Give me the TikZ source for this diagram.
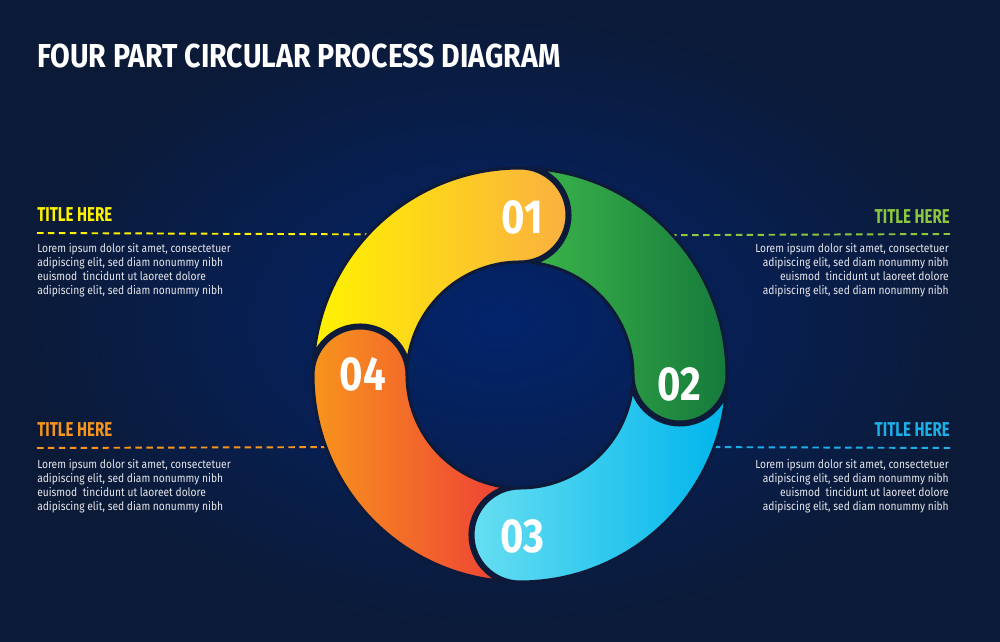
\documentclass[tikz,border=0pt]{standalone}
\usepackage{fontspec}
\usepackage{tikz}
\usetikzlibrary{positioning, calc}
\setmainfont{Fira Sans}
\newfontfamily\titlefont[FakeStretch=0.86]{Fira Sans}
\newfontfamily\condfont[FakeStretch=0.75]{Fira Sans}
\newfontfamily\numfont[FakeStretch=0.84]{Fira Sans}
\newfontfamily\blurbfont[FakeStretch=0.87]{Fira Sans}
\definecolor{bginner}{RGB}{3,36,108}
\definecolor{bgouter}{RGB}{11,26,54}
\definecolor{ringedge}{RGB}{13,26,58}
\definecolor{bodytext}{RGB}{232,232,236}
\definecolor{yel}{RGB}{255,242,0}
\definecolor{yelend}{RGB}{250,176,64}
\definecolor{grnA}{RGB}{59,180,74}
\definecolor{grnB}{RGB}{22,122,59}
\definecolor{bluA}{RGB}{102,222,241}
\definecolor{bluB}{RGB}{12,190,236}
\definecolor{bluC}{RGB}{0,181,236}
\definecolor{orA}{RGB}{247,148,29}
\definecolor{redA}{RGB}{238,65,54}
\definecolor{limetitle}{RGB}{141,198,63}
\definecolor{cyantitle}{RGB}{28,176,232}
\newcommand{\loremtext}{Lorem ipsum dolor sit amet, consectetuer\\adipiscing elit, sed diam nonummy nibh\\euismod\ \ tincidunt ut laoreet dolore\\adipiscing elit, sed diam nonummy nibh}

\begin{document}
\begin{tikzpicture}[
  x=0.254mm, y=0.254mm,
  seg/.style = {draw=ringedge, line width=2.2pt},
  heading/.style = {font=\condfont\bfseries\fontsize{14.5}{16}\selectfont, inner sep=0},
  blurb/.style = {font=\blurbfont\fontsize{8.5}{10.1}\selectfont, text=bodytext, inner sep=0},
  num/.style = {font=\numfont\bfseries\fontsize{34.5}{36}\selectfont, text=white, inner sep=0},
  guide/.style = {dash pattern=on 4.7pt off 3.2pt, line width=1.4pt}
]
  \useasboundingbox (0,0) rectangle (1000,642);
  \fill[inner color=bginner, outer color=bgouter] (0,0) rectangle (1000,642);

  \node[font=\titlefont\bfseries\fontsize{24}{26}\selectfont, text=white, anchor=base west, inner sep=0]
    (title) at (37,574) {FOUR PART CIRCULAR PROCESS DIAGRAM};

  % ring centre
  \coordinate (c) at (520,267);

  % text blocks
  \node[heading, text=yel, anchor=base west] (t1) at (37,420) {TITLE HERE};
  \node[heading, text=limetitle, anchor=base east] (t2) at (950,418) {TITLE HERE};
  \node[heading, text=orA, anchor=base west] (t4) at (37,205) {TITLE HERE};
  \node[heading, text=cyantitle, anchor=base east] (t3) at (950,205) {TITLE HERE};

  \node[blurb, align=left, anchor=north west] (b1) at (37,399) {\loremtext};
  \node[blurb, align=right, anchor=north east] (b2) at (949,399) {\loremtext};
  \node[blurb, align=left, anchor=north west] (b4) at (37,183) {\loremtext};
  \node[blurb, align=right, anchor=north east] (b3) at (949,183) {\loremtext};

  % dashed guides, ending under the ring edge
  \coordinate (g1) at (37,409);
  \coordinate (g2) at (950,408);
  \coordinate (g4) at (37,194);
  \coordinate (g3) at (950,194);
  \coordinate (e1) at ($(c)+(136.7:205)$);
  \coordinate (e2) at ($(c)+(43.0:205)$);
  \coordinate (e4) at ($(c)+(200.6:205)$);
  \coordinate (e3) at ($(c)+(-20.6:205)$);
  \draw[guide, yel] (g1) -- (e1);
  \draw[guide, limetitle] (g2) -- (e2);
  \draw[guide, orA] (g4) -- (e4);
  \draw[guide, cyantitle] (g3) -- (e3);

  % the four segments, head cap at \h, tail notch at \h+90
  \begin{scope}[shift={(c)}]
    \foreach \h/\lc/\mc/\rc in {90/yel/yel/yelend, 0/grnA/grnA/grnB, -90/bluA/bluB/bluC, 180/orA/redA/redA}
    {
      \pgfmathsetmacro\t{\h+90}
      \path[seg, left color=\lc, middle color=\mc, right color=\rc]
        ({\t-5.37}:207) arc[start angle=\t-5.37, end angle=\h, radius=207]
        arc[start angle=\h, end angle=\h-180, radius=47]
        arc[start angle=\h, end angle=\t-7.28, radius=113]
        arc[start angle=\t-163.36, end angle=\t-22.8, radius=50] -- cycle;
    }
  \end{scope}

  \node[num] (n1) at (522,425) {01};
  \node[num] (n2) at (679,258) {02};
  \node[num] (n3) at (522,106) {03};
  \node[num] (n4) at (363,268) {04};
\end{tikzpicture}
\end{document}
